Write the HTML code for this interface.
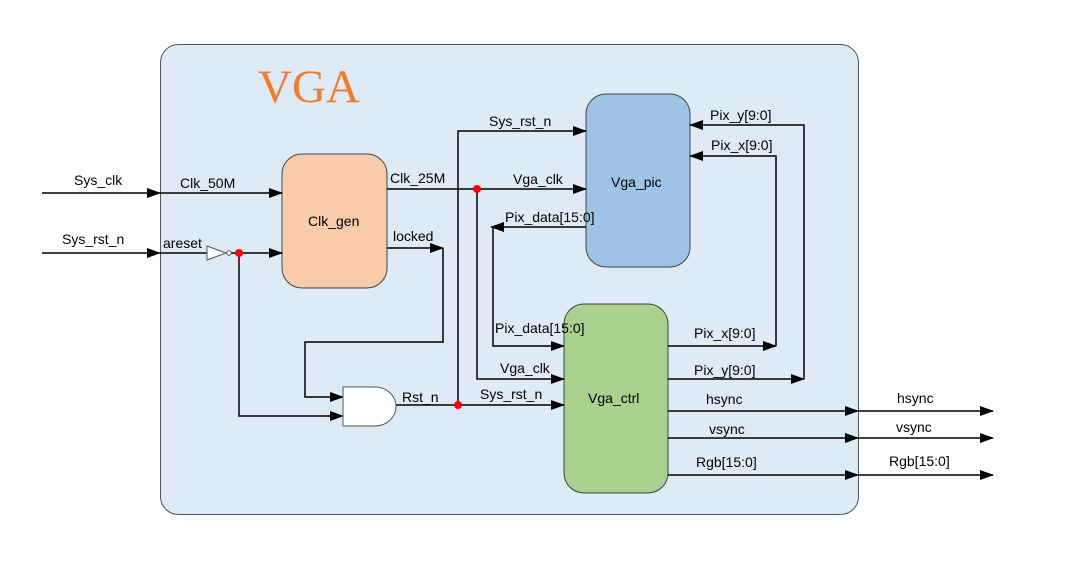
<!DOCTYPE html>
<html><head><meta charset="utf-8"><style>
html,body{margin:0;padding:0;background:#fff;width:1075px;height:565px;overflow:hidden}
text{font-family:"Liberation Sans",sans-serif;font-size:14px;fill:#000}
</style></head><body>
<svg width="1075" height="565" viewBox="0 0 1075 565" xmlns="http://www.w3.org/2000/svg">
<defs><marker id="a" markerWidth="14" markerHeight="10" refX="13" refY="5" orient="auto" markerUnits="userSpaceOnUse"><path d="M0,0 L14,5 L0,10 z" fill="#000"/></marker></defs>
<rect x="160.5" y="44.5" width="698" height="470" rx="18" fill="#deeaf6" stroke="#555" stroke-width="1"/>
<text x="258" y="102" style="font-family:'Liberation Serif',serif;font-size:47px;fill:#ed7d31">VGA</text>
<rect x="282" y="154" width="105" height="134" rx="20" fill="#f8cbad" stroke="#444"/>
<rect x="586" y="94" width="104" height="173" rx="20" fill="#9dc3e6" stroke="#444"/>
<rect x="564" y="304" width="104" height="189" rx="20" fill="#a9d18e" stroke="#444"/>
<text x="308" y="226">Clk_gen</text>
<text x="611" y="187">Vga_pic</text>
<text x="588" y="403">Vga_ctrl</text>
<g stroke="#000" stroke-width="1.5" fill="none">
<line x1="42" y1="193" x2="160" y2="193" marker-end="url(#a)"/>
<line x1="160" y1="193" x2="282" y2="193" marker-end="url(#a)"/>
<line x1="42" y1="253" x2="160" y2="253" marker-end="url(#a)"/>
<line x1="160" y1="253" x2="207" y2="253"/>
<line x1="231" y1="253" x2="282" y2="253" marker-end="url(#a)"/>
<polyline points="387,189 586,189" marker-end="url(#a)"/>
<polyline points="387,248 443,248" marker-end="url(#a)"/>
<polyline points="443,248 443,342 305,342 305,397 343,397" marker-end="url(#a)"/>
<polyline points="239,253 239,416 343,416" marker-end="url(#a)"/>
<polyline points="396,405 564,405" marker-end="url(#a)"/>
<polyline points="458,405 458,131 586,131" marker-end="url(#a)"/>
<polyline points="477,189 477,379 564,379" marker-end="url(#a)"/>
<polyline points="586,227 491,227" marker-end="url(#a)"/>
<polyline points="493,227 493,346 564,346" marker-end="url(#a)"/>
<polyline points="668,346 776,346" marker-end="url(#a)"/>
<polyline points="776,346 776,156 690,156" marker-end="url(#a)"/>
<polyline points="668,379 804,379" marker-end="url(#a)"/>
<polyline points="804,379 804,125 690,125" marker-end="url(#a)"/>
<line x1="668" y1="411" x2="858" y2="411" marker-end="url(#a)"/>
<line x1="858" y1="411" x2="993" y2="411" marker-end="url(#a)"/>
<line x1="668" y1="438" x2="858" y2="438" marker-end="url(#a)"/>
<line x1="858" y1="438" x2="993" y2="438" marker-end="url(#a)"/>
<line x1="668" y1="475" x2="858" y2="475" marker-end="url(#a)"/>
<line x1="858" y1="475" x2="993" y2="475" marker-end="url(#a)"/>
</g>
<path d="M207,246 L226,253 L207,260 z" fill="#fff" stroke="#555" stroke-width="1"/>
<circle cx="229" cy="253" r="2.2" fill="#fff" stroke="#555"/>
<path d="M343,387 L375,387 A21,19.5 0 0 1 375,426 L343,426 z" fill="#fff" stroke="#555" stroke-width="1"/>
<g fill="#f00"><circle cx="239" cy="253" r="4"/><circle cx="477" cy="189" r="4"/><circle cx="458" cy="405" r="4"/></g>
<text x="74" y="185">Sys_clk</text>
<text x="62" y="244">Sys_rst_n</text>
<text x="180" y="188">Clk_50M</text>
<text x="163" y="248">areset</text>
<text x="390" y="183">Clk_25M</text>
<text x="393" y="241">locked</text>
<text x="402" y="402">Rst_n</text>
<text x="480" y="399">Sys_rst_n</text>
<text x="489" y="126">Sys_rst_n</text>
<text x="513" y="184">Vga_clk</text>
<text x="505" y="222">Pix_data[15:0]</text>
<text x="495" y="333">Pix_data[15:0]</text>
<text x="500" y="373">Vga_clk</text>
<text x="710" y="120">Pix_y[9:0]</text>
<text x="711" y="150">Pix_x[9:0]</text>
<text x="694" y="338">Pix_x[9:0]</text>
<text x="694" y="375">Pix_y[9:0]</text>
<text x="706" y="404">hsync</text>
<text x="709" y="434">vsync</text>
<text x="696" y="467">Rgb[15:0]</text>
<text x="897" y="403">hsync</text>
<text x="896" y="432">vsync</text>
<text x="889" y="466">Rgb[15:0]</text>
</svg>
</body></html>
